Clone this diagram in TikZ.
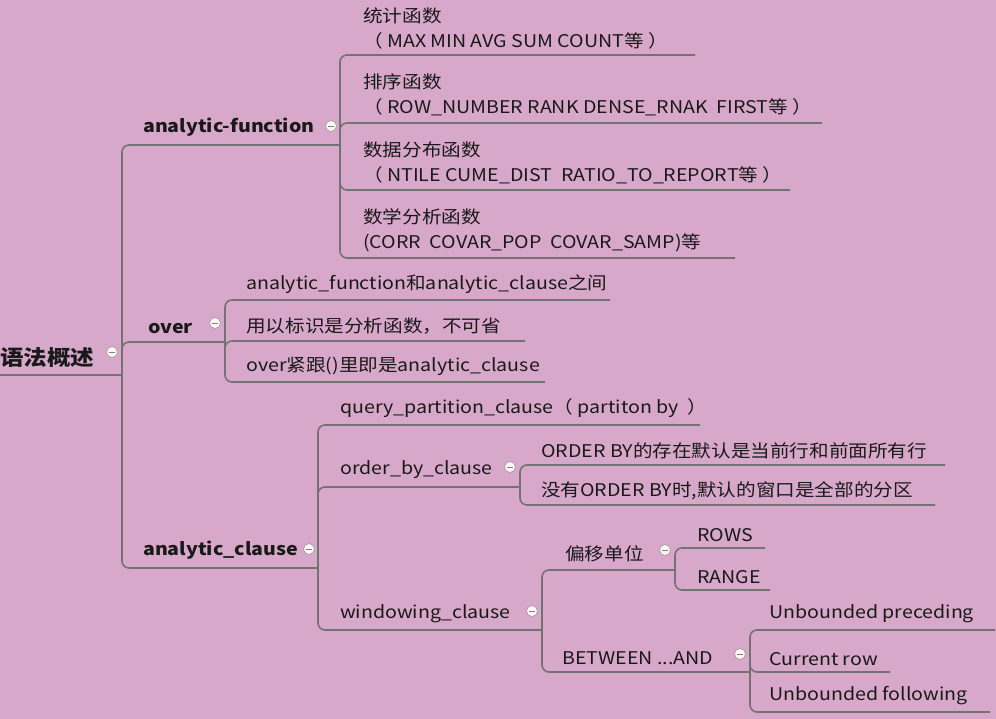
\documentclass[tikz,border=0pt]{standalone}
\usepackage{fontspec}
\setmainfont[FakeStretch=1.12]{Noto Sans CJK SC}
\begin{document}
\begin{tikzpicture}[x=1pt,y=-1pt,
  ln/.style={draw=black!55,line width=1.6pt,rounded corners=7pt},
  tx/.style={anchor=south west,inner sep=0pt,font=\fontsize{17.5}{25}\selectfont,align=left,text=black!90},
  bx/.style={tx,font=\fontsize{17.5}{25}\selectfont\bfseries},
  ic/.style={circle,draw=black!40,fill=white!85!pink,minimum size=11pt,inner sep=0pt,line width=0.6pt,
    path picture={\draw[black!50,line width=0.8pt] ([xshift=-3pt]path picture bounding box.center)--([xshift=3pt]path picture bounding box.center);}}]
\fill[fill={rgb,255:red,216;green,168;blue,202}] (0,0) rectangle (996,719);
\useasboundingbox (0,0) rectangle (996,719);
\newcommand\mybr[4]{\draw[ln] (#1,#2) |- (#4,#3);}
% root
\node[bx,font=\fontsize{21}{25}\selectfont\bfseries] (root) at (0,368) {语法概述};
\draw[ln] (0,375) -- (122,375);
\node[ic] (i0) at (112,352) {};
\mybr{122}{375}{145}{340}
\mybr{122}{375}{342}{225}
\mybr{122}{375}{568}{318}
\node[bx] (af) at (143,137) {analytic-function};
\node[ic] (i1) at (331,126) {};
\node[bx] (ov) at (148,334) {over};
\node[ic] (i2) at (215,323) {};
\node[bx] (ac) at (143,560) {analytic\_clause};
\node[ic] (i3) at (309,549) {};
% analytic-function children
\mybr{340}{145}{55}{695}
\mybr{340}{145}{123}{822}
\mybr{340}{145}{190}{790}
\mybr{340}{145}{258}{735}
\node[tx] (a1) at (363,49) {统计函数\\（ MAX MIN AVG SUM COUNT等 ）};
\node[tx] (a2) at (363,116) {排序函数\\（ ROW\_NUMBER RANK DENSE\_RNAK\ \ FIRST等 ）};
\node[tx] (a3) at (363,184) {数据分布函数\\（ NTILE CUME\_DIST\ \ RATIO\_TO\_REPORT等 ）};
\node[tx] (a4) at (363,252) {数学分析函数\\(CORR\ \ COVAR\_POP\ \ COVAR\_SAMP)等};
% over children
\mybr{225}{342}{300}{610}
\mybr{225}{342}{341}{525}
\mybr{225}{342}{382}{545}
\node[tx] (o1) at (246,294) {analytic\_function和analytic\_clause之间};
\node[tx] (o2) at (246,335) {用以标识是分析函数，不可省};
\node[tx] (o3) at (246,376) {over紧跟()里即是analytic\_clause};
% analytic_clause children
\mybr{318}{568}{425}{700}
\mybr{318}{568}{487}{520}
\mybr{318}{568}{630}{542}
\node[tx] (c1) at (340,418) {query\_partition\_clause（ partiton by\ \ ）};
\node[tx] (c2) at (340,479) {order\_by\_clause};
\node[ic] (i4) at (510,467) {};
\node[tx] (c3) at (340,623) {windowing\_clause};
\node[ic] (i5) at (532,611) {};
% order_by children
\mybr{520}{487}{465}{945}
\mybr{520}{487}{505}{935}
\node[tx] (b1) at (541,459) {ORDER BY的存在默认是当前行和前面所有行};
\node[tx] (b2) at (541,500) {没有ORDER BY时,默认的窗口是全部的分区};
% windowing children
\mybr{542}{630}{570}{675}
\mybr{542}{630}{672}{750}
\node[tx] (w1) at (565,562) {偏移单位};
\node[ic] (i6) at (665,550) {};
\node[tx] (w2) at (562,665) {BETWEEN ...AND};
\node[ic] (i7) at (740,654) {};
\mybr{675}{570}{548}{765}
\mybr{675}{570}{590}{770}
\node[tx] (r1) at (697,542) {ROWS};
\node[tx] (r2) at (697,584) {RANGE};
\mybr{750}{672}{630}{995}
\mybr{750}{672}{672}{890}
\mybr{750}{672}{712}{990}
\node[tx] (u1) at (769,623) {Unbounded preceding};
\node[tx] (u2) at (769,666) {Current row};
\node[tx] (u3) at (769,705) {Unbounded following};
\end{tikzpicture}
\end{document}
